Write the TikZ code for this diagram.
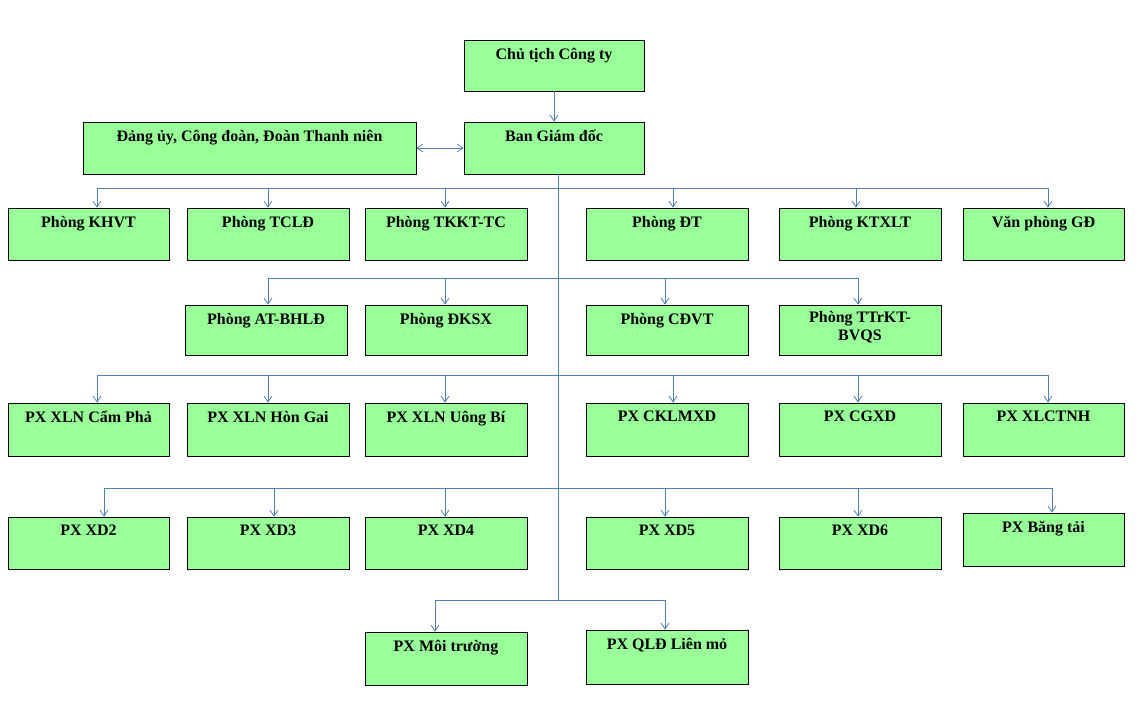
\documentclass[tikz,border=0pt]{standalone}
\usepackage{fontspec}
\setmainfont{Liberation Serif}
\usetikzlibrary{arrows.meta}
\tikzset{
 box/.style={draw=black, line width=0.6pt, fill=boxg, inner sep=0pt},
 txt/.style={font=\bfseries\fontsize{16}{18}\selectfont, align=center, inner sep=0pt},
 conn/.style={draw=lnc, line width=0.8pt},
 arr/.style={conn, -{Straight Barb[length=6pt,width=8pt]}},
}
\definecolor{boxg}{HTML}{99FF99}
\definecolor{lnc}{HTML}{4F7FB8}
\newcommand{\bx}[6]{%
 \node[box, minimum width={(#4-#2)*1pt}, minimum height={(#5-#3)*1pt}] (#1) at ({(#2+#4)/2},{(#3+#5)/2}) {};
 \node[txt, anchor=north] (#1t) at ([yshift=-8pt]#1.north) {#6};}
\begin{document}
\begin{tikzpicture}[x=1pt,y=-1pt]
\useasboundingbox (0,0) rectangle (1147,711);
\bx{ct}{464}{40}{644}{91}{Chủ tịch Công ty}
\bx{bgd}{464}{122}{644}{174}{Ban Giám đốc}
\bx{du}{83}{122}{416}{174}{Đảng ủy, Công đoàn, Đoàn Thanh niên}
% row1
\bx{a1}{8}{208}{169}{260}{Phòng KHVT}
\bx{a2}{187}{208}{349}{260}{Phòng TCLĐ}
\bx{a3}{365}{208}{527}{260}{Phòng TKKT-TC}
\bx{a4}{586}{208}{748}{260}{Phòng ĐT}
\bx{a5}{779}{208}{941}{260}{Phòng KTXLT}
\bx{a6}{963}{208}{1124}{260}{Văn phòng GĐ}
% row2
\bx{b1}{185}{305}{347}{355}{Phòng AT-BHLĐ}
\bx{b2}{365}{305}{527}{355}{Phòng ĐKSX}
\bx{b3}{586}{305}{748}{355}{Phòng CĐVT}
\node[box, minimum width=162pt, minimum height=50pt] (b4) at (860,330) {};
\node[txt, anchor=north] (b4t) at ([yshift=-6pt]b4.north) {Phòng TTrKT-\\BVQS};
% row3
\bx{c1}{8}{403}{169}{456}{PX XLN Cẩm Phả}
\bx{c2}{187}{403}{349}{456}{PX XLN Hòn Gai}
\bx{c3}{365}{403}{527}{456}{PX XLN Uông Bí}
\bx{c4}{586}{403}{748}{456}{PX CKLMXD}
\bx{c5}{779}{403}{941}{456}{PX CGXD}
\bx{c6}{963}{403}{1124}{456}{PX XLCTNH}
% row4
\bx{d1}{8}{517}{169}{569}{PX XD2}
\bx{d2}{187}{517}{349}{569}{PX XD3}
\bx{d3}{365}{517}{527}{569}{PX XD4}
\bx{d4}{586}{517}{748}{569}{PX XD5}
\bx{d5}{779}{517}{941}{569}{PX XD6}
\bx{d6}{963}{513}{1124}{566}{PX Băng tải}
% row5
\bx{e1}{365}{632}{527}{685}{PX Môi trường}
\bx{e2}{586}{630}{748}{684}{PX QLĐ Liên mỏ}
% connectors
\draw[arr] (ct.south) -- (bgd.north);
\draw[conn, {Straight Barb[length=6pt,width=8pt]}-{Straight Barb[length=6pt,width=8pt]}] (du.east) -- (bgd.west);
\coordinate (tb) at (558,600);
\draw[conn] (558,174) -- (tb);
\draw[conn] (97,188) -- (1048,188);
\foreach \x/\n in {97/a1,268/a2,445/a3,673/a4,856/a5,1048/a6}{\draw[arr] (\x,188) -- (\n.north -| \x,0);}
\draw[conn] (268,278) -- (858,278);
\foreach \x/\n in {268/b1,445/b2,665/b3,858/b4}{\draw[arr] (\x,278) -- (\n.north -| \x,0);}
\draw[conn] (97,375) -- (1048,375);
\foreach \x/\n in {97/c1,268/c2,445/c3,673/c4,858/c5,1048/c6}{\draw[arr] (\x,375) -- (\n.north -| \x,0);}
\draw[conn] (104,488) -- (1052,488);
\foreach \x/\n in {104/d1,274/d2,445/d3,665/d4,858/d5,1052/d6}{\draw[arr] (\x,488) -- (\n.north -| \x,0);}
\draw[conn] (435,600) -- (665,600);
\foreach \x/\n in {435/e1,665/e2}{\draw[arr] (\x,600) -- (\n.north -| \x,0);}
\end{tikzpicture}
\end{document}
